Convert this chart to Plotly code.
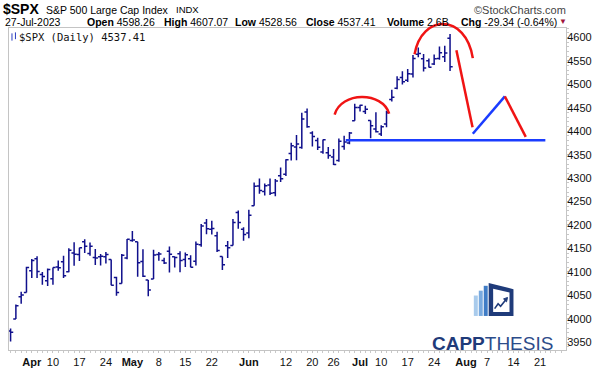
import plotly.graph_objects as go
import pandas as pd

# ---------------- data ----------------
holidays = ["2023-04-07", "2023-05-29", "2023-06-19", "2023-07-04"]

dates = ["2023-03-28", "2023-03-29", "2023-03-30", "2023-03-31",
         "2023-04-03", "2023-04-04", "2023-04-05", "2023-04-06",
         "2023-04-10", "2023-04-11", "2023-04-12", "2023-04-13", "2023-04-14",
         "2023-04-17", "2023-04-18", "2023-04-19", "2023-04-20", "2023-04-21",
         "2023-04-24", "2023-04-25", "2023-04-26", "2023-04-27", "2023-04-28",
         "2023-05-01", "2023-05-02", "2023-05-03", "2023-05-04", "2023-05-05",
         "2023-05-08", "2023-05-09", "2023-05-10", "2023-05-11", "2023-05-12",
         "2023-05-15", "2023-05-16", "2023-05-17", "2023-05-18", "2023-05-19",
         "2023-05-22", "2023-05-23", "2023-05-24", "2023-05-25", "2023-05-26",
         "2023-05-30", "2023-05-31", "2023-06-01", "2023-06-02",
         "2023-06-05", "2023-06-06", "2023-06-07", "2023-06-08", "2023-06-09",
         "2023-06-12", "2023-06-13", "2023-06-14", "2023-06-15", "2023-06-16",
         "2023-06-20", "2023-06-21", "2023-06-22", "2023-06-23",
         "2023-06-26", "2023-06-27", "2023-06-28", "2023-06-29", "2023-06-30",
         "2023-07-03", "2023-07-05", "2023-07-06", "2023-07-07",
         "2023-07-10", "2023-07-11", "2023-07-12", "2023-07-13", "2023-07-14",
         "2023-07-17", "2023-07-18", "2023-07-19", "2023-07-20", "2023-07-21",
         "2023-07-24", "2023-07-25", "2023-07-26", "2023-07-27"]

opens = [3974.13, 3999.53, 4046.74, 4056.18,
         4102.20, 4128.03, 4094.50, 4081.15,
         4085.20, 4110.29, 4121.72, 4100.04, 4140.11,
         4137.17, 4164.26, 4139.33, 4130.48, 4132.14,
         4132.07, 4126.43, 4087.78, 4075.29, 4129.63,
         4166.79, 4164.10, 4122.25, 4082.61, 4084.73,
         4136.98, 4124.25, 4143.74, 4132.24, 4138.54,
         4126.65, 4127.95, 4122.85, 4157.68, 4204.15,
         4190.78, 4176.80, 4132.96, 4155.71, 4156.16,
         4226.71, 4190.74, 4183.03, 4241.01,
         4282.99, 4271.34, 4285.47, 4268.69, 4304.88,
         4308.32, 4352.61, 4366.29, 4365.33, 4440.95,
         4396.11, 4380.01, 4355.40, 4354.17,
         4344.84, 4337.36, 4367.48, 4374.94, 4422.44,
         4450.48, 4442.04, 4422.62, 4404.54,
         4394.23, 4415.55, 4467.69, 4491.50, 4514.61,
         4508.86, 4521.78, 4563.87, 4554.38, 4550.16,
         4543.39, 4555.19, 4558.96, 4598.26]

highs = [3979.20, 4030.59, 4057.85, 4110.75,
         4127.66, 4133.13, 4099.69, 4107.32,
         4109.50, 4124.26, 4134.37, 4150.26, 4163.19,
         4151.72, 4169.48, 4162.57, 4148.57, 4138.02,
         4142.41, 4126.43, 4089.67, 4138.24, 4170.06,
         4186.92, 4164.10, 4148.30, 4082.61, 4147.02,
         4142.30, 4130.35, 4154.28, 4132.80, 4143.74,
         4141.25, 4135.54, 4164.67, 4202.20, 4212.91,
         4209.22, 4185.68, 4132.96, 4165.74, 4212.87,
         4231.10, 4195.44, 4232.43, 4290.67,
         4299.28, 4288.33, 4299.19, 4298.01, 4322.62,
         4340.13, 4375.37, 4391.82, 4439.20, 4448.47,
         4400.15, 4386.22, 4382.25, 4366.55,
         4362.06, 4384.42, 4390.35, 4398.39, 4458.48,
         4456.46, 4454.06, 4422.62, 4440.39,
         4412.60, 4443.64, 4488.34, 4517.38, 4527.76,
         4532.85, 4562.30, 4578.43, 4564.74, 4555.00,
         4563.41, 4580.62, 4582.47, 4607.07]

lows = [3951.53, 3999.53, 4032.10, 4056.18,
        4086.87, 4086.87, 4072.56, 4069.84,
        4072.55, 4102.61, 4086.94, 4099.40, 4113.20,
        4123.18, 4140.36, 4134.49, 4114.57, 4113.86,
        4117.77, 4071.38, 4049.35, 4075.29, 4127.18,
        4164.12, 4089.72, 4088.86, 4048.28, 4084.73,
        4123.81, 4116.65, 4098.92, 4109.29, 4099.12,
        4110.27, 4109.86, 4113.62, 4153.50, 4180.20,
        4179.68, 4142.54, 4103.98, 4129.73, 4156.16,
        4192.18, 4166.15, 4171.64, 4241.01,
        4266.82, 4263.09, 4263.96, 4261.07, 4291.70,
        4304.37, 4337.54, 4337.85, 4362.60, 4407.44,
        4367.19, 4360.14, 4351.82, 4341.34,
        4328.08, 4335.00, 4360.22, 4371.97, 4422.44,
        4442.29, 4436.61, 4385.05, 4397.40,
        4389.92, 4408.46, 4463.23, 4489.36, 4499.56,
        4504.90, 4514.59, 4557.48, 4527.56, 4535.79,
        4541.29, 4552.42, 4547.58, 4528.56]

closes = [3971.27, 4027.81, 4050.83, 4109.31,
          4124.51, 4100.60, 4090.38, 4105.02,
          4109.11, 4108.94, 4091.95, 4146.22, 4137.64,
          4151.32, 4154.87, 4154.52, 4129.79, 4133.52,
          4137.04, 4071.63, 4055.99, 4135.35, 4169.48,
          4167.87, 4119.58, 4090.75, 4061.22, 4136.25,
          4138.12, 4119.17, 4137.64, 4130.62, 4124.08,
          4136.28, 4109.90, 4158.77, 4198.05, 4191.98,
          4192.63, 4145.58, 4115.24, 4151.28, 4205.45,
          4205.52, 4179.83, 4221.02, 4282.37,
          4273.79, 4283.85, 4267.52, 4293.93, 4298.86,
          4338.93, 4369.01, 4372.59, 4425.84, 4409.59,
          4388.71, 4365.69, 4381.89, 4348.33,
          4328.82, 4378.41, 4376.86, 4396.44, 4450.38,
          4455.59, 4446.82, 4411.59, 4398.95,
          4409.53, 4439.26, 4472.16, 4510.04, 4505.42,
          4522.79, 4554.98, 4565.72, 4534.87, 4536.34,
          4554.64, 4567.46, 4566.75, 4537.41]

tick_dates = ["2023-04-03", "2023-04-10", "2023-04-17", "2023-04-24",
              "2023-05-01", "2023-05-08", "2023-05-15", "2023-05-22",
              "2023-06-01", "2023-06-12", "2023-06-20", "2023-06-26",
              "2023-07-03", "2023-07-10", "2023-07-17", "2023-07-24",
              "2023-08-01", "2023-08-07", "2023-08-14", "2023-08-21"]
tick_labels = ["<b>Apr</b>", "10", "17", "24", "<b>May</b>", "8", "15", "22",
               "<b>Jun</b>", "12", "20", "26", "<b>Jul</b>", "10", "17", "24",
               "<b>Aug</b>", "7", "14", "21"]
price_ticks = list(range(3950, 4601, 50))

# hand-drawn annotation points (trading-day index, price)
arc_small = [(61.2, 4435.5), (66.5, 4472.8), (71.5, 4437.3)]
arc_big = [(76.3, 4564.1), (81.5, 4628.4), (87.3, 4555.8)]
red_drop = [(84.2, 4572.4), (87.25, 4408.5)]
blue_up = [(87.3, 4394.6), (93.35, 4474.3)]
red_down = [(93.35, 4474.3), (97.3, 4387.8)]
support_level = 4380.5
support_span = (63.3, 101.0)

# ---------------- axes / calendar ----------------
calendar = [d for d in pd.bdate_range("2023-03-28", "2023-08-25")
            if d.strftime("%Y-%m-%d") not in holidays]
cal_index = {d.strftime("%Y-%m-%d"): i for i, d in enumerate(calendar)}
xs = [cal_index[d] for d in dates]
tick_x = [cal_index[d] for d in tick_dates]

XR = [-0.3, 104.9]
YR = [3933.4, 4620.1]
PL, PR, PT, PB = 8, 570, 28, 359
W, H = 600, 376


def dx(i):
    return (i - XR[0]) / (XR[1] - XR[0])


def dy(p):
    return (p - YR[0]) / (YR[1] - YR[0])


def px(xp):
    return (xp - PL) / (PR - PL)


def py(yp):
    return (PB - yp) / (PB - PT)


NAVY = "#10108c"
RED = "#f01414"
BLUE = "#1a3cff"

fig = go.Figure()
fig.add_trace(go.Ohlc(
    x=xs, open=opens, high=highs, low=lows, close=closes,
    increasing_line_color=NAVY, decreasing_line_color=NAVY,
    line_width=1.5, tickwidth=0.5, showlegend=False, hoverinfo="skip"))

shapes = []


def arc_path(pts, f=0.12):
    (sx, sy), (pkx, pky), (ex, ey) = [(dx(a), dy(b)) for a, b in pts]
    cy = (8 * pky - sy - ey) / 6
    c1x = sx + f * (ex - sx)
    c2x = ex - f * (ex - sx)
    return f"M {sx},{sy} C {c1x},{cy} {c2x},{cy} {ex},{ey}"


for pts in (arc_small, arc_big):
    shapes.append(dict(type="path", xref="paper", yref="paper", path=arc_path(pts),
                       line=dict(color=RED, width=2.5)))
for seg, col in ((red_drop, RED), (blue_up, BLUE), (red_down, RED)):
    shapes.append(dict(type="line", xref="paper", yref="paper",
                       x0=dx(seg[0][0]), y0=dy(seg[0][1]), x1=dx(seg[1][0]), y1=dy(seg[1][1]),
                       line=dict(color=col, width=2.5)))
shapes.append(dict(type="line", xref="paper", yref="paper",
                   x0=dx(support_span[0]), x1=dx(support_span[1]),
                   y0=dy(support_level), y1=dy(support_level),
                   line=dict(color=BLUE, width=2.5)))

# logo graphic
for (x0, x1, y0, c) in ((477, 481, 303, "#a9cbec"), (482, 486, 298, "#79aadf"), (487, 491, 293, "#3f7cc6")):
    shapes.append(dict(type="rect", xref="paper", yref="paper", x0=px(x0), x1=px(x1),
                       y0=py(324), y1=py(y0), line=dict(width=0), fillcolor=c))
outer = [(492, 290), (517, 296.5), (517, 324), (492, 324)]
inner = [(496.5, 296), (513, 300), (513, 320), (496.5, 320)]
for poly, c in ((outer, "#1f3b7a"), (inner, "white")):
    p = "M " + " L ".join(f"{px(a)},{py(b)}" for a, b in poly) + " Z"
    shapes.append(dict(type="path", xref="paper", yref="paper", path=p,
                       line=dict(width=0), fillcolor=c))
zig = [(498, 316.5), (501.5, 311.5), (504, 314), (509.5, 307)]
shapes.append(dict(type="path", xref="paper", yref="paper",
                   path="M " + " L ".join(f"{px(a)},{py(b)}" for a, b in zig),
                   line=dict(color="#1f3b7a", width=1.6)))
shapes.append(dict(type="path", xref="paper", yref="paper",
                   path=f"M {px(511)},{py(305)} L {px(507)},{py(306.5)} L {px(510)},{py(309.5)} Z",
                   line=dict(color="#1f3b7a", width=1), fillcolor="#1f3b7a"))
# legend icon
for (a, t, b) in ((11, 33.5, 41), (14.5, 32.5, 39.5)):
    shapes.append(dict(type="line", xref="paper", yref="paper", x0=px(a), x1=px(a),
                       y0=py(t), y1=py(b), line=dict(color="#2a3cc0", width=1)))

FONT = "Liberation Sans, Arial, sans-serif"
ann = []


def text(x, y, s, size=11, color="#111", anchor="left", family=FONT):
    ann.append(dict(xref="paper", yref="paper", x=px(x), y=py(y), text=s, showarrow=False,
                    xanchor=anchor, yanchor="middle", borderpad=0,
                    font=dict(size=size, color=color, family=family)))


text(1, 8, "<b>$SPX</b>", size=14, color="#000")
text(44, 9, "S&P 500 Large Cap Index", size=10.5, color="#000")
text(175, 9, "INDX", size=9.5, color="#000")
text(571, 9, "©StockCharts.com", size=11, color="#444", anchor="right")
text(3, 21.5, "27-Jul-2023", size=10.5, color="#000")
text(86, 21.5, "<b>Open</b> 4598.26", size=10.5, color="#000")
text(163, 21.5, "<b>High</b> 4607.07", size=10.5, color="#000")
text(235, 21.5, "<b>Low</b> 4528.56", size=10.5, color="#000")
text(307, 21.5, "<b>Close</b> 4537.41", size=10.5, color="#000")
text(388, 21.5, "<b>Volume</b> 2.6B", size=10.5, color="#000")
text(463, 21.5, "<b>Chg</b> -29.34 (-0.64%)", size=10.5, color="#000")
text(562, 21.5, "▼", size=8, color="#a0143c")
text(17, 37, "$SPX (Daily) 4537.41", size=10.5, color="#111", family="DejaVu Sans Mono, monospace")
text(495.5, 352, "<b>CAPP</b><span style='color:#2c4c8a'>THESIS</span>", size=19,
     color="#1f3b7a", anchor="center")

axis_common = dict(showgrid=False, zeroline=False, showline=True, mirror=True,
                   linecolor="#c4c4c4", linewidth=1, ticks="outside", ticklen=2,
                   tickcolor="#c4c4c4", fixedrange=True,
                   tickfont=dict(size=11, color="#111", family=FONT))

fig.update_layout(
    width=W, height=H, margin=dict(l=PL, r=W - PR, t=PT, b=H - PB),
    paper_bgcolor="white", plot_bgcolor="white",
    xaxis=dict(range=XR, tickmode="array", tickvals=tick_x, ticktext=tick_labels,
               rangeslider=dict(visible=False),
               minor=dict(ticks="outside", ticklen=2, dtick=1, tick0=0, tickcolor="#c8c8c8"),
               **axis_common),
    yaxis=dict(range=YR, side="right", tickmode="array", tickvals=price_ticks,
               ticktext=[str(v) for v in price_ticks], ticklabelstandoff=-4,
               minor=dict(ticks="outside", ticklen=2, dtick=10, tick0=3950, tickcolor="#c8c8c8"),
               **axis_common),
    shapes=shapes, annotations=ann, showlegend=False,
)

fig.write_html("out.html", config={"displayModeBar": False},
               post_script="document.body.style.margin='0';document.body.style.padding='0';")
